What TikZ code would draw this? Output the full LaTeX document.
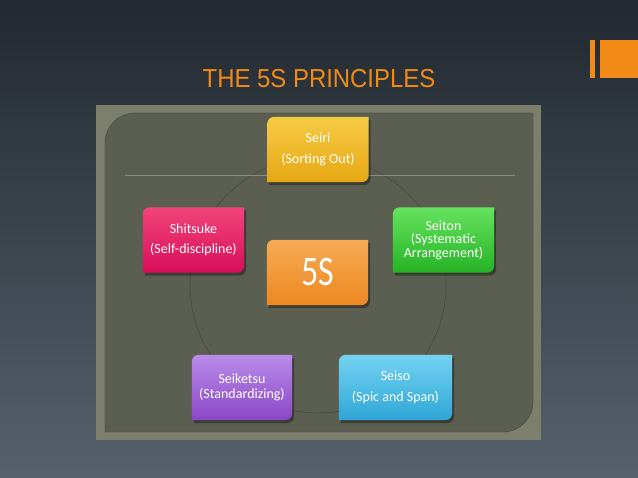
\documentclass[tikz,border=0pt]{standalone}
\usepackage{fontspec}
\setmainfont{Carlito}
\newfontfamily\titlefont{Liberation Sans}
\usetikzlibrary{positioning}

\definecolor{slidetop}{HTML}{222930}
\definecolor{slidebot}{HTML}{56616C}
\definecolor{titleorange}{HTML}{F28A17}
\definecolor{boardout}{HTML}{7B7F6B}
\definecolor{boardin}{HTML}{5B5F51}
\definecolor{seiriA}{HTML}{F6CB45}\definecolor{seiriB}{HTML}{E6A812}
\definecolor{shitsukeA}{HTML}{F2447C}\definecolor{shitsukeB}{HTML}{D80E58}
\definecolor{seitonA}{HTML}{66E25E}\definecolor{seitonB}{HTML}{26B326}
\definecolor{fivesA}{HTML}{F7AB55}\definecolor{fivesB}{HTML}{EC8820}
\definecolor{seiketsuA}{HTML}{BA8CEA}\definecolor{seiketsuB}{HTML}{8946C6}
\definecolor{seisoA}{HTML}{74D3F2}\definecolor{seisoB}{HTML}{2EA6D6}

\pgfdeclarelayer{back}
\pgfdeclarelayer{tabs}
\pgfsetlayers{back,tabs,main}

% box outline: round top left and bottom right corners
\newcommand{\tabpath}[1]{([yshift=-7pt]#1.north west) arc[start angle=180, end angle=90, radius=7pt] -- (#1.north east) -- ([yshift=7pt]#1.south east) arc[start angle=0, end angle=-90, radius=7pt] -- (#1.south west) -- cycle}

\begin{document}
\begin{tikzpicture}[x=1pt, y=1pt,
    tab/.style={minimum width=#1, minimum height=65pt, inner sep=0pt, text=white, align=center, font=\fontsize{14}{16.5}\selectfont},
    tab/.default=101pt]
    \useasboundingbox (0,0) rectangle (638,478);

    \begin{pgfonlayer}{back}
        \shade[top color=slidetop, bottom color=slidebot] (0,0) rectangle (638,478);
        \fill[titleorange] (590,400) rectangle (595,438);
        \fill[titleorange] (600,400) rectangle (638,438);
        \fill[boardout] (96,38) rectangle (541,373);
        \fill[boardin, draw=black!25!boardin] (105,335) arc[start angle=180, end angle=90, radius=30pt] -- (533,365) -- (533,76) arc[start angle=0, end angle=-90, radius=30pt] -- (105,46) -- cycle;
        \draw[black!22!boardin, line width=.6pt] (318,193) circle[radius=128pt];
        \draw[white!28!boardin, line width=.8pt] (125,303) -- (515,303);
    \end{pgfonlayer}

    \node[titleorange, font=\titlefont\fontsize{26}{30}\selectfont, xscale=.92] (title) at (319,399) {THE 5S PRINCIPLES};

    \node[tab] (seiri) at (318,328.5) {Seiri\\[5pt](Sorting Out)};
    \node[tab] (shitsuke) at (193.5,238) {Shitsuke\\[3pt](Self-discipline)};
    \node[tab] (seiton) at (443.5,238) {Seiton\\[-3pt](Systematic\\[-3pt]Arrangement)};
    \node[tab, font=\fontsize{40}{40}\selectfont] (fives) at (317.5,205.5) {\scalebox{.85}[1.05]{5S}};
    \node[tab=100pt] (seiketsu) at (242,90.5) {Seiketsu\\[-1pt](Standardizing)};
    \node[tab=113pt] (seiso) at (395.5,90.5) {Seiso\\[5pt](Spic and Span)};

    \begin{pgfonlayer}{tabs}
        \foreach \n in {seiri, shitsuke, seiton, fives, seiketsu, seiso} {
            \fill[black, opacity=.35, transform canvas={shift={(2pt,-3pt)}}] \tabpath{\n};
            \shade[top color=\n A, bottom color=\n B] \tabpath{\n};
        }
    \end{pgfonlayer}
\end{tikzpicture}
\end{document}
